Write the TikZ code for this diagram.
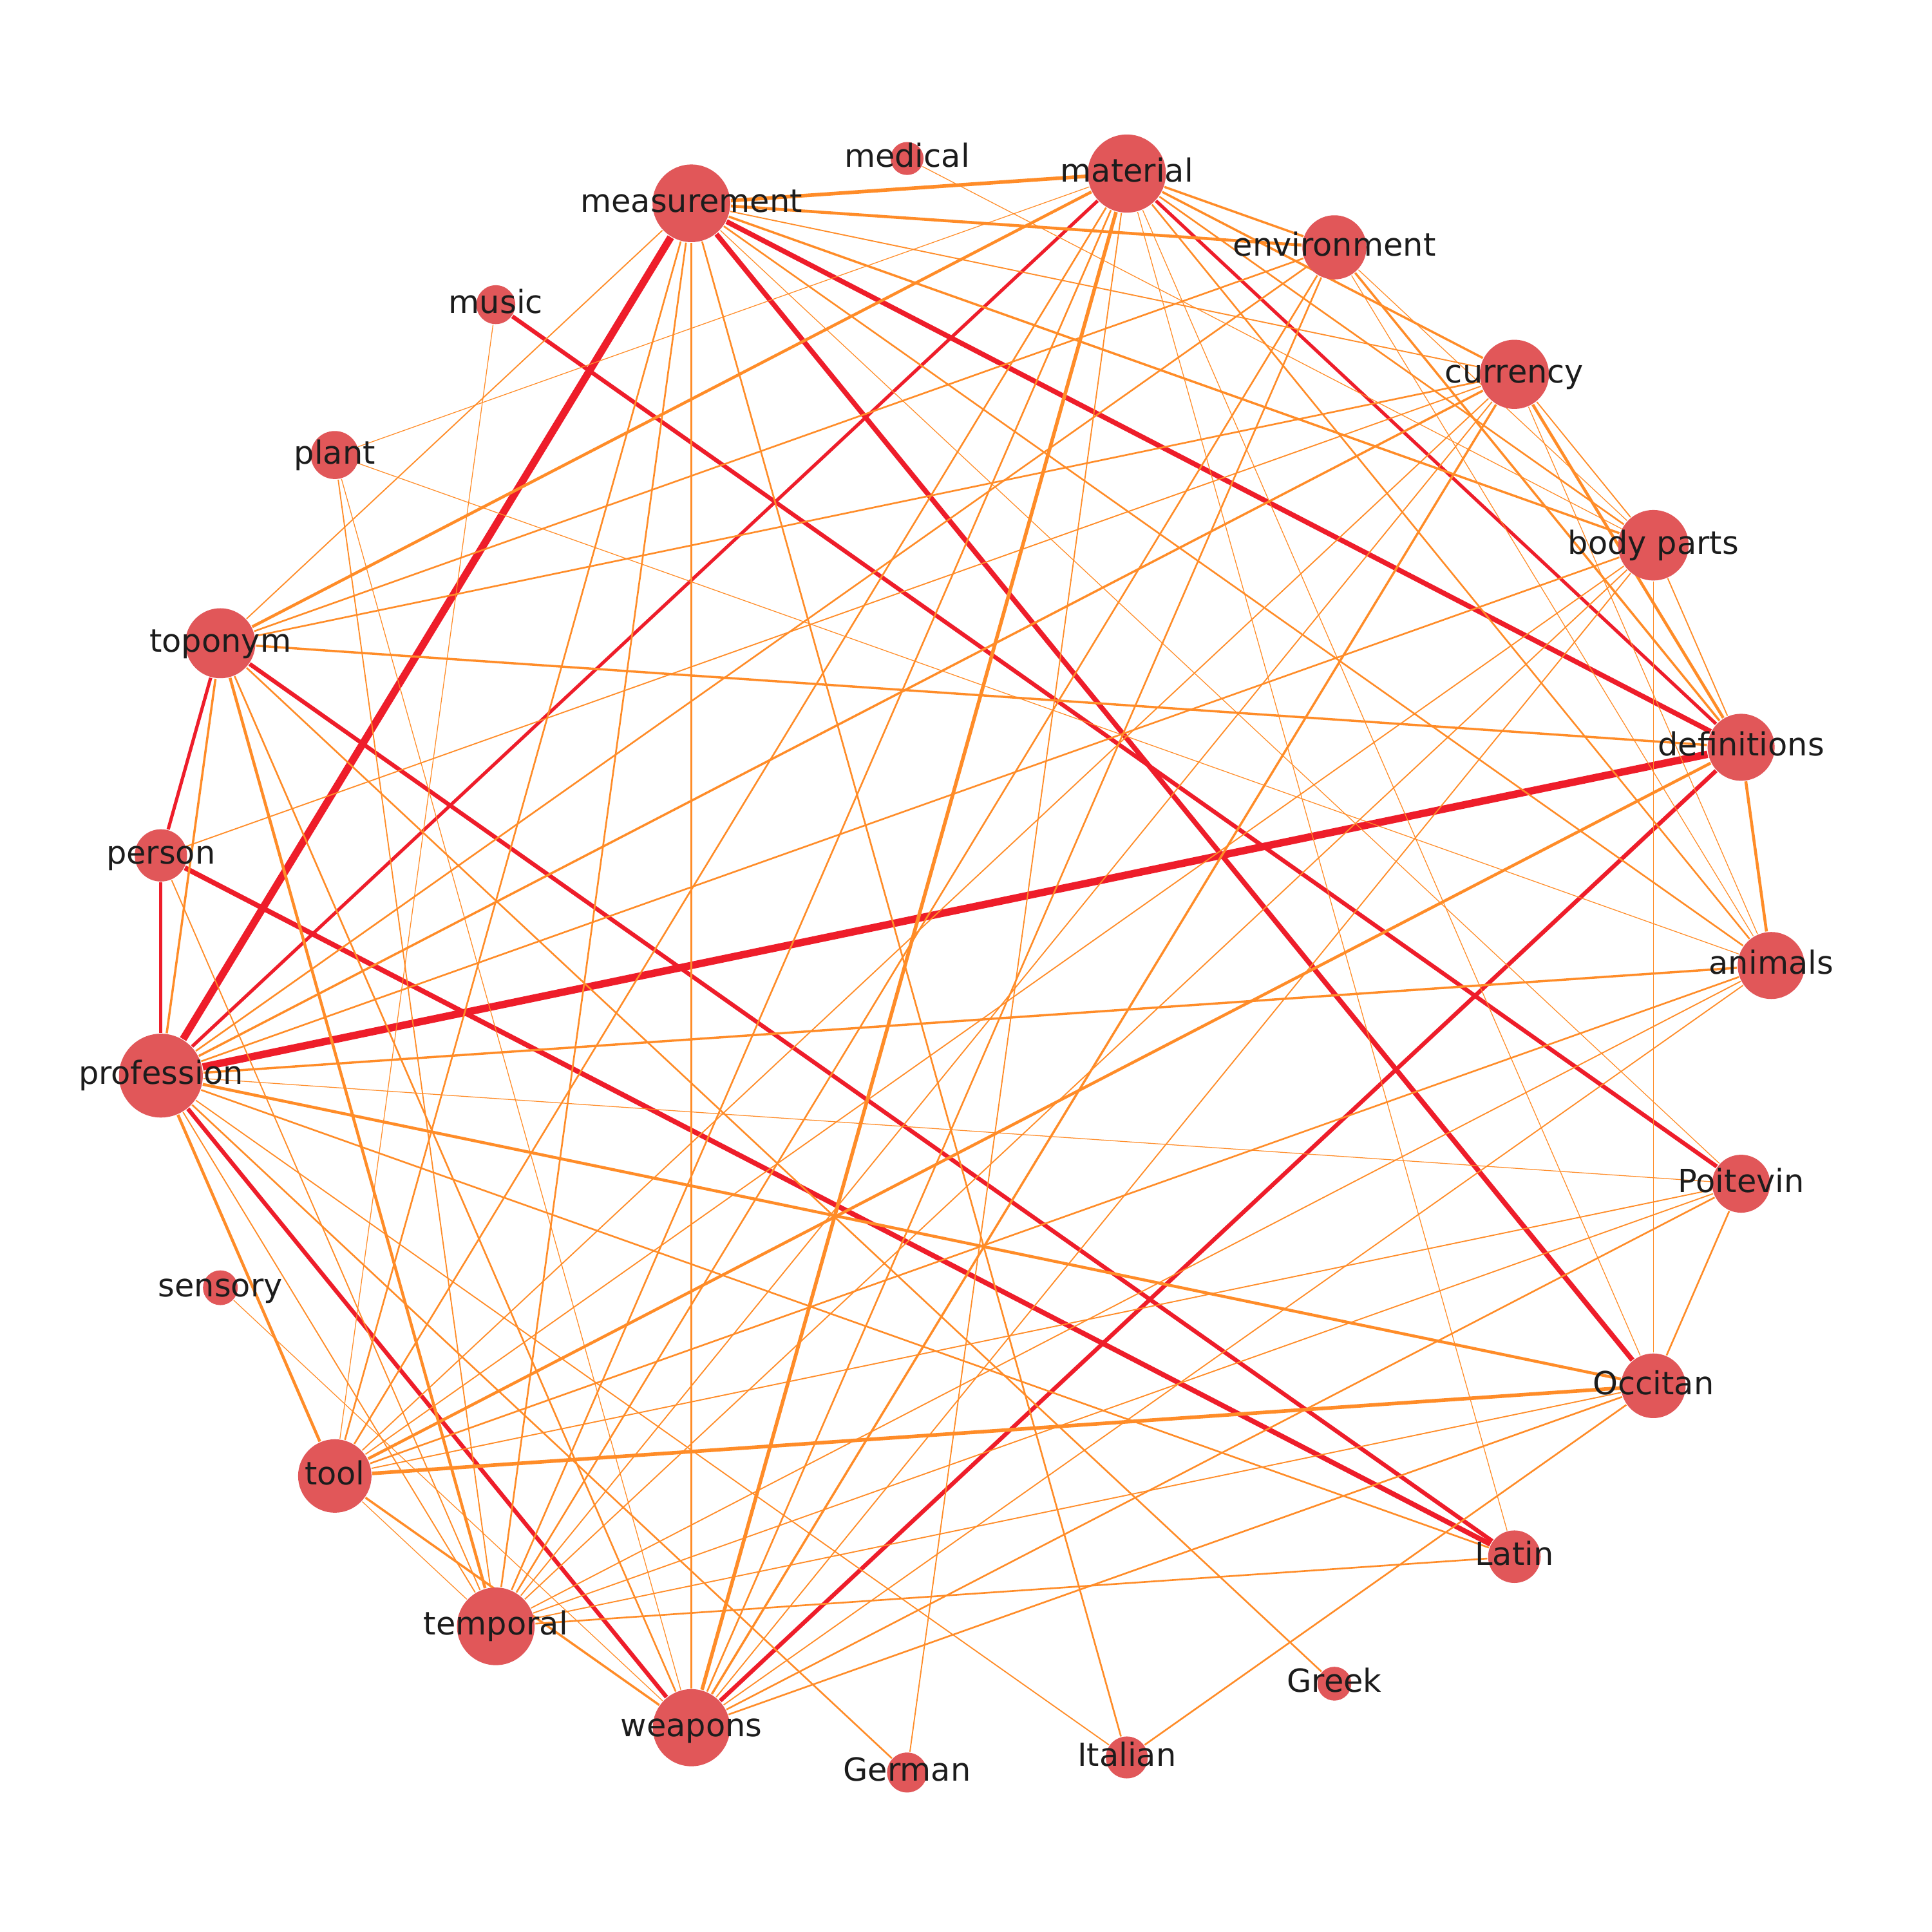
\documentclass[tikz,border=0pt]{standalone}
\usepackage{fontspec}
\setmainfont{DejaVu Sans}
\usepackage{xcolor}
\usepackage{tikz}
\usetikzlibrary{backgrounds}

\definecolor{nodered}{RGB}{225,87,89}
\definecolor{edgeorange}{RGB}{255,140,40}
\definecolor{edgered}{RGB}{238,29,42}
\definecolor{labelgray}{RGB}{28,28,28}

\tikzset{
  vtx/.style={circle, fill=nodered, inner sep=0pt},
  lbl/.style={inner sep=0pt, text=labelgray, font=\fontsize{7.5}{9}\selectfont,
    text height=5.7pt, text depth=1.6pt},
  % orange edges, thin to thick
  o1/.style={draw=edgeorange, line width=0.19pt},
  o2/.style={draw=edgeorange, line width=0.28pt},
  o3/.style={draw=edgeorange, line width=0.40pt},
  o4/.style={draw=edgeorange, line width=0.53pt},
  o5/.style={draw=edgeorange, line width=0.69pt},
  o6/.style={draw=edgeorange, line width=0.85pt},
  % red edges
  r1/.style={draw=edgered, line width=0.78pt},
  r2/.style={draw=edgered, line width=0.98pt},
  r3/.style={draw=edgered, line width=1.18pt},
  r5/.style={draw=edgered, line width=1.75pt},
}

\begin{document}
\begin{tikzpicture}

% Nodes on the circle (radius 6.699)
\node[vtx, minimum size=0.555cm] (animals) at (0:6.699) {};
\node[vtx, minimum size=0.555cm] (definitions) at (15.652:6.699) {};
\node[vtx, minimum size=0.584cm] (bodyparts) at (31.304:6.699) {};
\node[vtx, minimum size=0.573cm] (currency) at (46.957:6.699) {};
\node[vtx, minimum size=0.531cm] (environment) at (62.609:6.699) {};
\node[vtx, minimum size=0.647cm] (material) at (78.261:6.699) {};
\node[vtx, minimum size=0.273cm] (medical) at (93.913:6.699) {};
\node[vtx, minimum size=0.643cm] (measurement) at (109.565:6.699) {};
\node[vtx, minimum size=0.322cm] (music) at (125.217:6.699) {};
\node[vtx, minimum size=0.398cm] (plant) at (140.870:6.699) {};
\node[vtx, minimum size=0.580cm] (toponym) at (156.522:6.699) {};
\node[vtx, minimum size=0.433cm] (person) at (172.174:6.699) {};
\node[vtx, minimum size=0.694cm] (profession) at (187.826:6.699) {};
\node[vtx, minimum size=0.288cm] (sensory) at (203.478:6.699) {};
\node[vtx, minimum size=0.608cm] (tool) at (219.130:6.699) {};
\node[vtx, minimum size=0.643cm] (temporal) at (234.783:6.699) {};
\node[vtx, minimum size=0.639cm] (weapons) at (250.435:6.699) {};
\node[vtx, minimum size=0.331cm] (German) at (266.087:6.699) {};
\node[vtx, minimum size=0.347cm] (Italian) at (281.739:6.699) {};
\node[vtx, minimum size=0.280cm] (Greek) at (297.391:6.699) {};
\node[vtx, minimum size=0.435cm] (Latin) at (313.043:6.699) {};
\node[vtx, minimum size=0.535cm] (Occitan) at (328.696:6.699) {};
\node[vtx, minimum size=0.480cm] (Poitevin) at (344.348:6.699) {};

\begin{scope}[on background layer]
\fill[white] (-7.969,-8.004) rectangle (8.031,7.996);

% Strong links
\draw[r5] (measurement) -- (profession);
\draw[r5] (definitions) -- (profession);
\draw[r3] (measurement) -- (definitions);
\draw[r3] (measurement) -- (Occitan);
\draw[r3] (person) -- (Latin);
\draw[r2] (profession) -- (weapons);
\draw[r2] (definitions) -- (weapons);
\draw[r2] (toponym) -- (Latin);
\draw[r2] (music) -- (Poitevin);
\draw[r1] (material) -- (definitions);
\draw[r1] (material) -- (profession);
\draw[r1] (toponym) -- (person);
\draw[r1] (person) -- (profession);

% measurement
\draw[o6] (measurement) -- (material);
\draw[o5] (measurement) -- (environment);
\draw[o2] (measurement) -- (currency);
\draw[o4] (measurement) -- (bodyparts);
\draw[o3] (measurement) -- (animals);
\draw[o1] (measurement) -- (Poitevin);
\draw[o3] (measurement) -- (Italian);
\draw[o4] (measurement) -- (weapons);
\draw[o3] (measurement) -- (temporal);
\draw[o3] (measurement) -- (tool);
\draw[o2] (measurement) -- (toponym);

% material
\draw[o4] (material) -- (environment);
\draw[o4] (material) -- (currency);
\draw[o3] (material) -- (bodyparts);
\draw[o3] (material) -- (animals);
\draw[o1] (material) -- (Occitan);
\draw[o1] (material) -- (Latin);
\draw[o2] (material) -- (German);
\draw[o6] (material) -- (weapons);
\draw[o3] (material) -- (tool);
\draw[o3] (material) -- (temporal);
\draw[o5] (material) -- (toponym);
\draw[o1] (material) -- (plant);

% toponym
\draw[o3] (toponym) -- (environment);
\draw[o3] (toponym) -- (currency);
\draw[o4] (toponym) -- (definitions);
\draw[o3] (toponym) -- (Greek);
\draw[o3] (toponym) -- (weapons);
\draw[o5] (toponym) -- (temporal);
\draw[o4] (toponym) -- (profession);

% profession
\draw[o3] (profession) -- (environment);
\draw[o4] (profession) -- (currency);
\draw[o3] (profession) -- (bodyparts);
\draw[o4] (profession) -- (animals);
\draw[o1] (profession) -- (Poitevin);
\draw[o5] (profession) -- (Occitan);
\draw[o3] (profession) -- (Latin);
\draw[o2] (profession) -- (Italian);
\draw[o3] (profession) -- (German);
\draw[o5] (profession) -- (tool);
\draw[o2] (profession) -- (temporal);

% person
\draw[o2] (person) -- (currency);
\draw[o2] (person) -- (temporal);

% environment
\draw[o1] (environment) -- (bodyparts);
\draw[o4] (environment) -- (definitions);
\draw[o1] (environment) -- (animals);
\draw[o3] (environment) -- (weapons);
\draw[o3] (environment) -- (temporal);

% currency
\draw[o4] (currency) -- (weapons);
\draw[o2] (currency) -- (tool);
\draw[o2] (currency) -- (temporal);
\draw[o2] (currency) -- (bodyparts);
\draw[o5] (currency) -- (definitions);
\draw[o1] (currency) -- (animals);

% body parts
\draw[o1] (bodyparts) -- (medical);
\draw[o2] (bodyparts) -- (tool);
\draw[o2] (bodyparts) -- (temporal);
\draw[o2] (bodyparts) -- (weapons);
\draw[o1] (bodyparts) -- (Occitan);
\draw[o2] (bodyparts) -- (definitions);

% definitions, animals
\draw[o5] (definitions) -- (animals);
\draw[o5] (definitions) -- (tool);
\draw[o1] (animals) -- (plant);
\draw[o3] (animals) -- (tool);
\draw[o2] (animals) -- (temporal);
\draw[o2] (animals) -- (weapons);

% Poitevin, Occitan, Latin
\draw[o2] (Poitevin) -- (tool);
\draw[o2] (Poitevin) -- (temporal);
\draw[o3] (Poitevin) -- (weapons);
\draw[o3] (Poitevin) -- (Occitan);
\draw[o6] (Occitan) -- (tool);
\draw[o2] (Occitan) -- (temporal);
\draw[o3] (Occitan) -- (weapons);
\draw[o3] (Occitan) -- (Italian);
\draw[o3] (Latin) -- (temporal);

% the rest
\draw[o1] (tool) -- (music);
\draw[o4] (tool) -- (weapons);
\draw[o1] (tool) -- (temporal);
\draw[o2] (plant) -- (temporal);
\draw[o1] (plant) -- (weapons);
\draw[o1] (sensory) -- (weapons);
\end{scope}

% Labels on top
\node[lbl] (animals-l) at (animals) {animals};
\node[lbl] (definitions-l) at (definitions) {definitions};
\node[lbl] (bodyparts-l) at (bodyparts) {body parts};
\node[lbl] (currency-l) at (currency) {currency};
\node[lbl] (environment-l) at (environment) {environment};
\node[lbl] (material-l) at (material) {material};
\node[lbl] (medical-l) at (medical) {medical};
\node[lbl] (measurement-l) at (measurement) {measurement};
\node[lbl] (music-l) at (music) {music};
\node[lbl] (plant-l) at (plant) {plant};
\node[lbl] (toponym-l) at (toponym) {toponym};
\node[lbl] (person-l) at (person) {person};
\node[lbl] (profession-l) at (profession) {profession};
\node[lbl] (sensory-l) at (sensory) {sensory};
\node[lbl] (tool-l) at (tool) {tool};
\node[lbl] (temporal-l) at (temporal) {temporal};
\node[lbl] (weapons-l) at (weapons) {weapons};
\node[lbl] (German-l) at (German) {German};
\node[lbl] (Italian-l) at (Italian) {Italian};
\node[lbl] (Greek-l) at (Greek) {Greek};
\node[lbl] (Latin-l) at (Latin) {Latin};
\node[lbl] (Occitan-l) at (Occitan) {Occitan};
\node[lbl] (Poitevin-l) at (Poitevin) {Poitevin};

\end{tikzpicture}
\end{document}
